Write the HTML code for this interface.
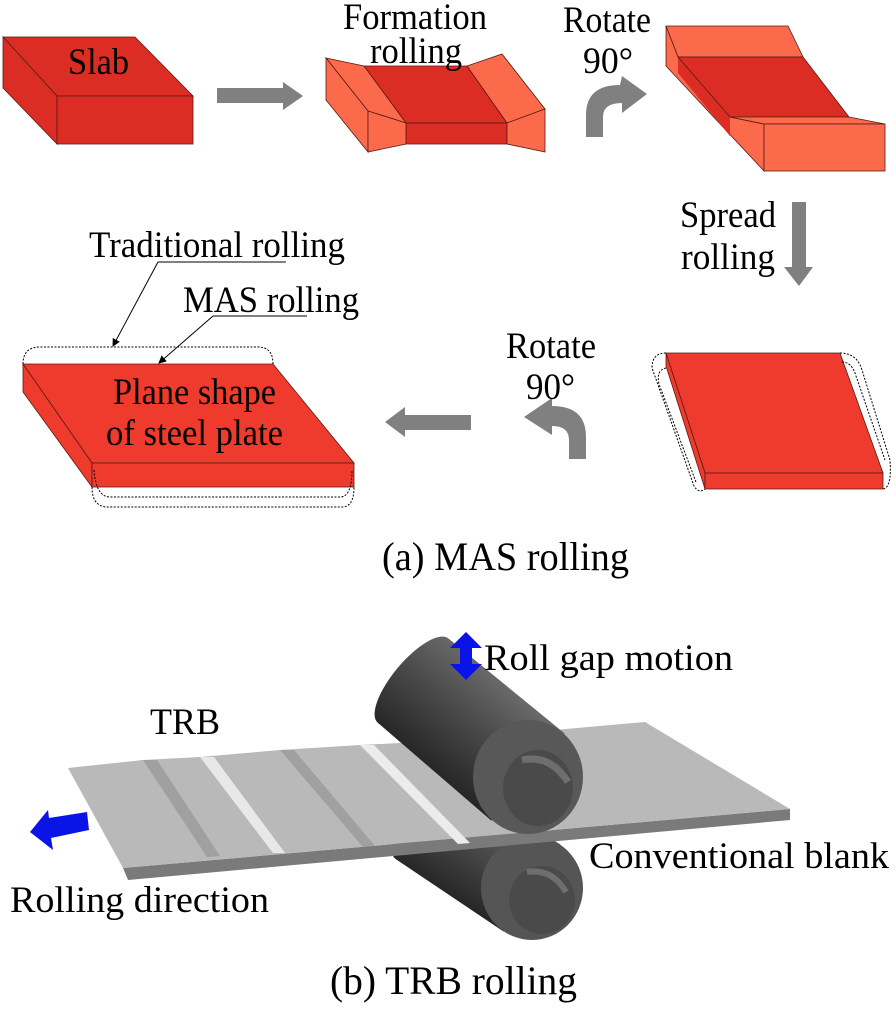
<!DOCTYPE html>
<html><head><meta charset="utf-8"><style>
html,body{margin:0;padding:0;background:#fff;}
svg{display:block;}
</style></head><body>
<svg width="896" height="1012" viewBox="0 0 896 1012" xmlns="http://www.w3.org/2000/svg" font-family="'Liberation Serif', 'Times New Roman', serif">
<defs>
<linearGradient id="rollg" x1="0" y1="0" x2="0" y2="1">
<stop offset="0" stop-color="#6a6a6a"/><stop offset="0.45" stop-color="#4a4a4a"/><stop offset="1" stop-color="#262626"/>
</linearGradient>
<marker id="ah" markerWidth="8" markerHeight="8" refX="7" refY="4" orient="auto" markerUnits="userSpaceOnUse"><path d="M0,0 L8,4 L0,8 Z" fill="#000"/></marker>
</defs>
<g stroke="#5a1a14" stroke-width="0.8">
<polygon points="3,37 135,37 193,96 57,96" fill="#dc2d25"/>
<polygon points="3,37 57,96 57,144 3,88" fill="#dc2d25"/>
<rect x="57" y="96" width="136" height="48" fill="#dc2d25"/>
<polygon points="364,66 467,66 507,123 406,123" fill="#dc2d25"/>
<rect x="406" y="123" width="101" height="21" fill="#dc2d25"/>
<polygon points="326,58 364,66 406,123 368,111" fill="#fa6a4b"/>
<polygon points="326,58 368,111 368,152 326,100" fill="#fa6a4b"/>
<polygon points="368,111 406,123 406,144 368,152" fill="#fa6a4b"/>
<polygon points="467,66 502,54 545,109 507,123" fill="#fa6a4b"/>
<polygon points="507,123 545,109 545,152 507,144" fill="#fa6a4b"/>
<polygon points="666,26 788,26 803,57 678,57" fill="#fa6a4b"/>
<polygon points="666,26 678,57 730,117 764,124 764,171 666,66" fill="#fa6a4b"/>
<polygon points="678,57 730,117 730,136 678,73" fill="#dc2d25" stroke="none"/>
<polygon points="678,57 803,57 849,117 730,117" fill="#dc2d25"/>
<polygon points="730,117 849,117 885,124 764,124" fill="#fa6a4b"/>
<rect x="764" y="124" width="121" height="47" fill="#fa6a4b"/>
<polygon points="23,364 273,364 354,463 92,463" fill="#ef3b2d"/>
<polygon points="23,364 92,463 92,487 23,392" fill="#ef3b2d"/>
<rect x="92" y="463" width="262" height="24" fill="#ef3b2d"/>
<polygon points="666,353 840,353 883,473 705,473" fill="#ef3b2d"/>
<polygon points="666,353 705,473 705,489 666,366" fill="#ef3b2d"/>
<rect x="705" y="473" width="178" height="16" fill="#ef3b2d"/>
</g>
<g fill="none" stroke="#000" stroke-width="1" stroke-dasharray="2,1.5">
<path d="M23,364 Q23,347 40,347 L258,347 Q273,347 273,364"/>
<path d="M94,470 Q96,497 110,497 L340,497 Q352,497 352,470"/>
<path d="M92,487 Q92,507 108,507 L342,507 Q354,507 354,487"/>
<path d="M666,353 Q652,353 652,368 L694,486 Q699,494 705,489"/>
<path d="M666,368 Q656,370 659,384 L696,482"/>
<path d="M840,353 Q857,353 862,370 L890,460 Q892,488 883,489"/>
<path d="M842,362 Q852,362 856,376 L885,460"/>
</g>
<g stroke="#000" stroke-width="1" fill="none">
<line x1="158" y1="262" x2="286" y2="262"/>
<line x1="158" y1="262" x2="113" y2="346" marker-end="url(#ah)"/>
<line x1="213" y1="316" x2="307" y2="316"/>
<line x1="213" y1="316" x2="159" y2="363" marker-end="url(#ah)"/>
</g>
<g fill="#808080">
<polygon points="217,88 283,88 283,82 303,96 283,110 283,103 217,103"/>
<path d="M586,137 L586,115 Q586,85 620,85 L622,76 L647,94 L622,113 L622,103 Q603,103 603,117 L603,137 Z"/>
<polygon points="792,202 806,202 806,267 813,267 799,286 784,267 792,267"/>
<polygon points="471,415 405,415 405,407 385,422 405,437 405,430 471,430"/>
<path d="M586,459 L586,437 Q586,406 552,406 L552,398 L524,417 L552,435 L552,426 Q569,426 569,440 L569,459 Z"/>
</g>
<g font-size="37" fill="#000">
<text x="68" y="74" textLength="61" lengthAdjust="spacingAndGlyphs">Slab</text>
<text x="343" y="29" textLength="144" lengthAdjust="spacingAndGlyphs">Formation</text>
<text x="370" y="63" textLength="92" lengthAdjust="spacingAndGlyphs">rolling</text>
<text x="563" y="32" textLength="88" lengthAdjust="spacingAndGlyphs">Rotate</text>
<text x="583" y="73" textLength="50" lengthAdjust="spacingAndGlyphs">90°</text>
<text x="680" y="227" textLength="96" lengthAdjust="spacingAndGlyphs">Spread</text>
<text x="681" y="269" textLength="94" lengthAdjust="spacingAndGlyphs">rolling</text>
<text x="89" y="257" textLength="256" lengthAdjust="spacingAndGlyphs">Traditional rolling</text>
<text x="183" y="312" textLength="176" lengthAdjust="spacingAndGlyphs">MAS rolling</text>
<text x="113" y="404" textLength="163" lengthAdjust="spacingAndGlyphs">Plane shape</text>
<text x="106" y="445" textLength="177" lengthAdjust="spacingAndGlyphs">of steel plate</text>
<text x="506" y="358" textLength="90" lengthAdjust="spacingAndGlyphs">Rotate</text>
<text x="526" y="399" textLength="49" lengthAdjust="spacingAndGlyphs">90°</text>
<text x="382" y="570" font-size="40" textLength="247" lengthAdjust="spacingAndGlyphs">(a) MAS rolling</text>
</g>
<g transform="translate(532,888) rotate(33)">
<path d="M-130,-50 L0,-52 L0,52 L-130,50 A18,50 0 0 1 -130,-50 Z" fill="url(#rollg)"/>
</g>
<ellipse cx="532" cy="888" rx="51" ry="52" fill="#555"/>
<ellipse cx="542" cy="900" rx="33" ry="34" fill="#4a4a4a"/>
<path d="M527,872 Q552,868 566,892" stroke="#6e6e6e" stroke-width="6" fill="none"/>
<polygon points="123,868 790,809 790,820 128,880" fill="#7a7a7a"/>
<polygon points="68,768 143,760 200,757 280,750 360,745 420,742 645,722 790,809 123,868" fill="#b9b9b9"/>
<polygon points="143,760 157,760 220,856 207,857" fill="#a0a0a0"/>
<polygon points="200,757 214,757 285,853 273,853" fill="#e8e8e8"/>
<polygon points="280,750 294,750 375,846 363,847" fill="#a0a0a0"/>
<polygon points="360,745 374,745 470,843 458,844" fill="#ececec"/>
<g transform="translate(528,777) rotate(40)">
<path d="M-150,-55 L0,-57 L0,57 L-150,55 A20,55 0 0 1 -150,-55 Z" fill="url(#rollg)"/>
</g>
<ellipse cx="528" cy="777" rx="55" ry="57" fill="#585858"/>
<ellipse cx="538" cy="788" rx="35" ry="38" fill="#4a4a4a"/>
<path d="M522,760 Q550,754 568,782" stroke="#6e6e6e" stroke-width="7" fill="none"/>
<g fill="#0a14e6">
<polygon points="466,632 482,648 472,648 472,664 482,664 466,680 450,664 460,664 460,648 450,648"/>
<polygon points="30,832 48,810 49,818 87,812 89,830 51,838 53,850"/>
</g>
<g font-size="37" fill="#000">
<text x="484" y="670" textLength="249" lengthAdjust="spacingAndGlyphs">Roll gap motion</text>
<text x="150" y="734" textLength="70" lengthAdjust="spacingAndGlyphs">TRB</text>
<text x="589" y="868" textLength="300" lengthAdjust="spacingAndGlyphs">Conventional blank</text>
<text x="10" y="912" textLength="259" lengthAdjust="spacingAndGlyphs">Rolling direction</text>
<text x="330" y="994" font-size="40" textLength="247" lengthAdjust="spacingAndGlyphs">(b) TRB rolling</text>
</g>
</svg>
</body></html>
